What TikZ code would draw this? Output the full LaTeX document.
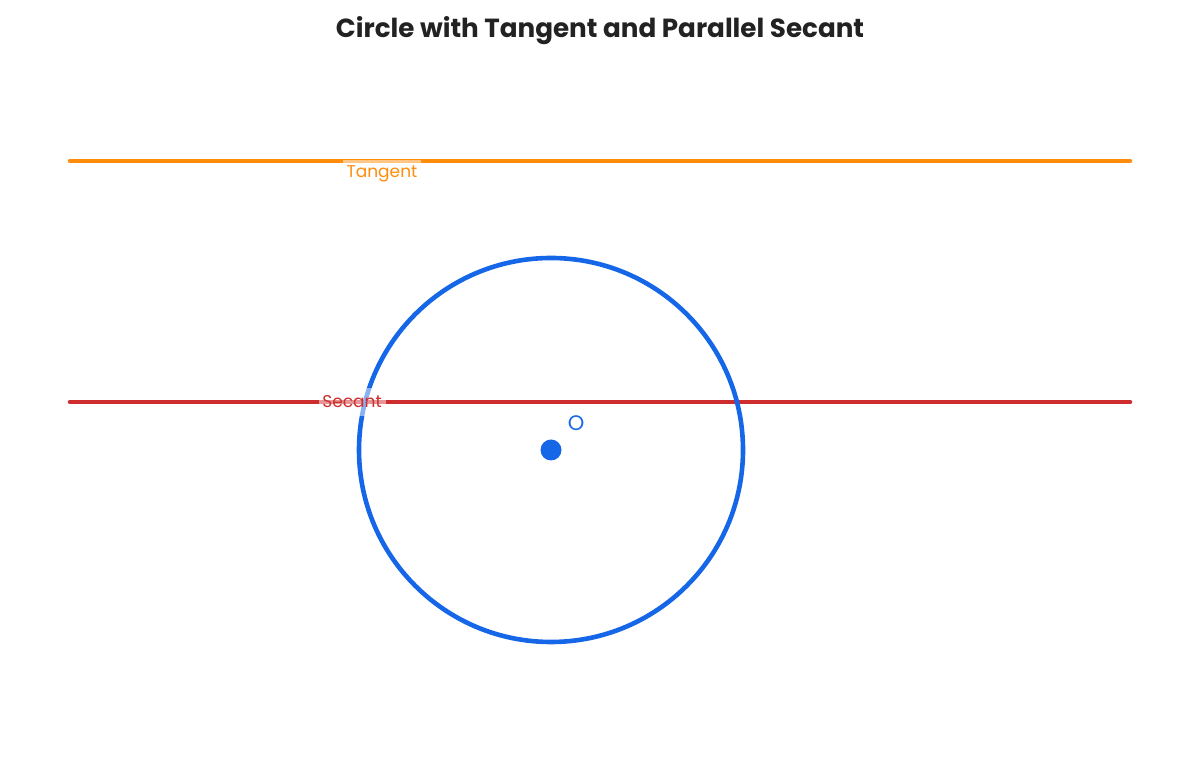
\documentclass[tikz,border=0pt]{standalone}
\usepackage{fontspec}
\setmainfont{Poppins}
\definecolor{tangentc}{RGB}{255,140,10}
\definecolor{secantc}{RGB}{206,45,45}
\definecolor{circc}{RGB}{22,102,232}
\definecolor{titlec}{RGB}{34,34,34}
\tikzset{
  lineobj/.style={line width=2.3pt, line cap=round},
  lbl/.style={font=\fontsize{8.5}{10}\selectfont, inner sep=1.5pt, minimum height=14pt, fill=white, fill opacity=0.5, text opacity=1},
}
\begin{document}
\begin{tikzpicture}[x=0.5pt,y=-0.5pt]
\useasboundingbox (0,0) rectangle (1200,763);
\node[font=\fontsize{13.1}{15}\selectfont\bfseries, text=titlec] (title) at (600,31) {Circle with Tangent and Parallel Secant};
\coordinate (tl) at (70,161);
\coordinate (tr) at (1130,161);
\coordinate (sl) at (70,402);
\coordinate (sr) at (1130,402);
\draw[lineobj, tangentc] (tl) -- (tr);
\draw[lineobj, secantc] (sl) -- (sr);
\node[draw=circc, line width=2.3pt, circle, minimum size=384pt*0.5, inner sep=0pt] (circ) at (551,450) {};
\node[fill=circc, circle, minimum size=10.5pt, inner sep=0pt] (O) at (551,450) {};
\node[font=\fontsize{10.5}{12}\selectfont, text=circc] (Olbl) at (576,423) {O};
\node[lbl, text=tangentc, minimum width=39pt] (tlab) at (382,174) {Tangent};
\node[lbl, text=secantc, minimum width=33.5pt] (slab) at (352,402) {Secant};
\end{tikzpicture}
\end{document}
